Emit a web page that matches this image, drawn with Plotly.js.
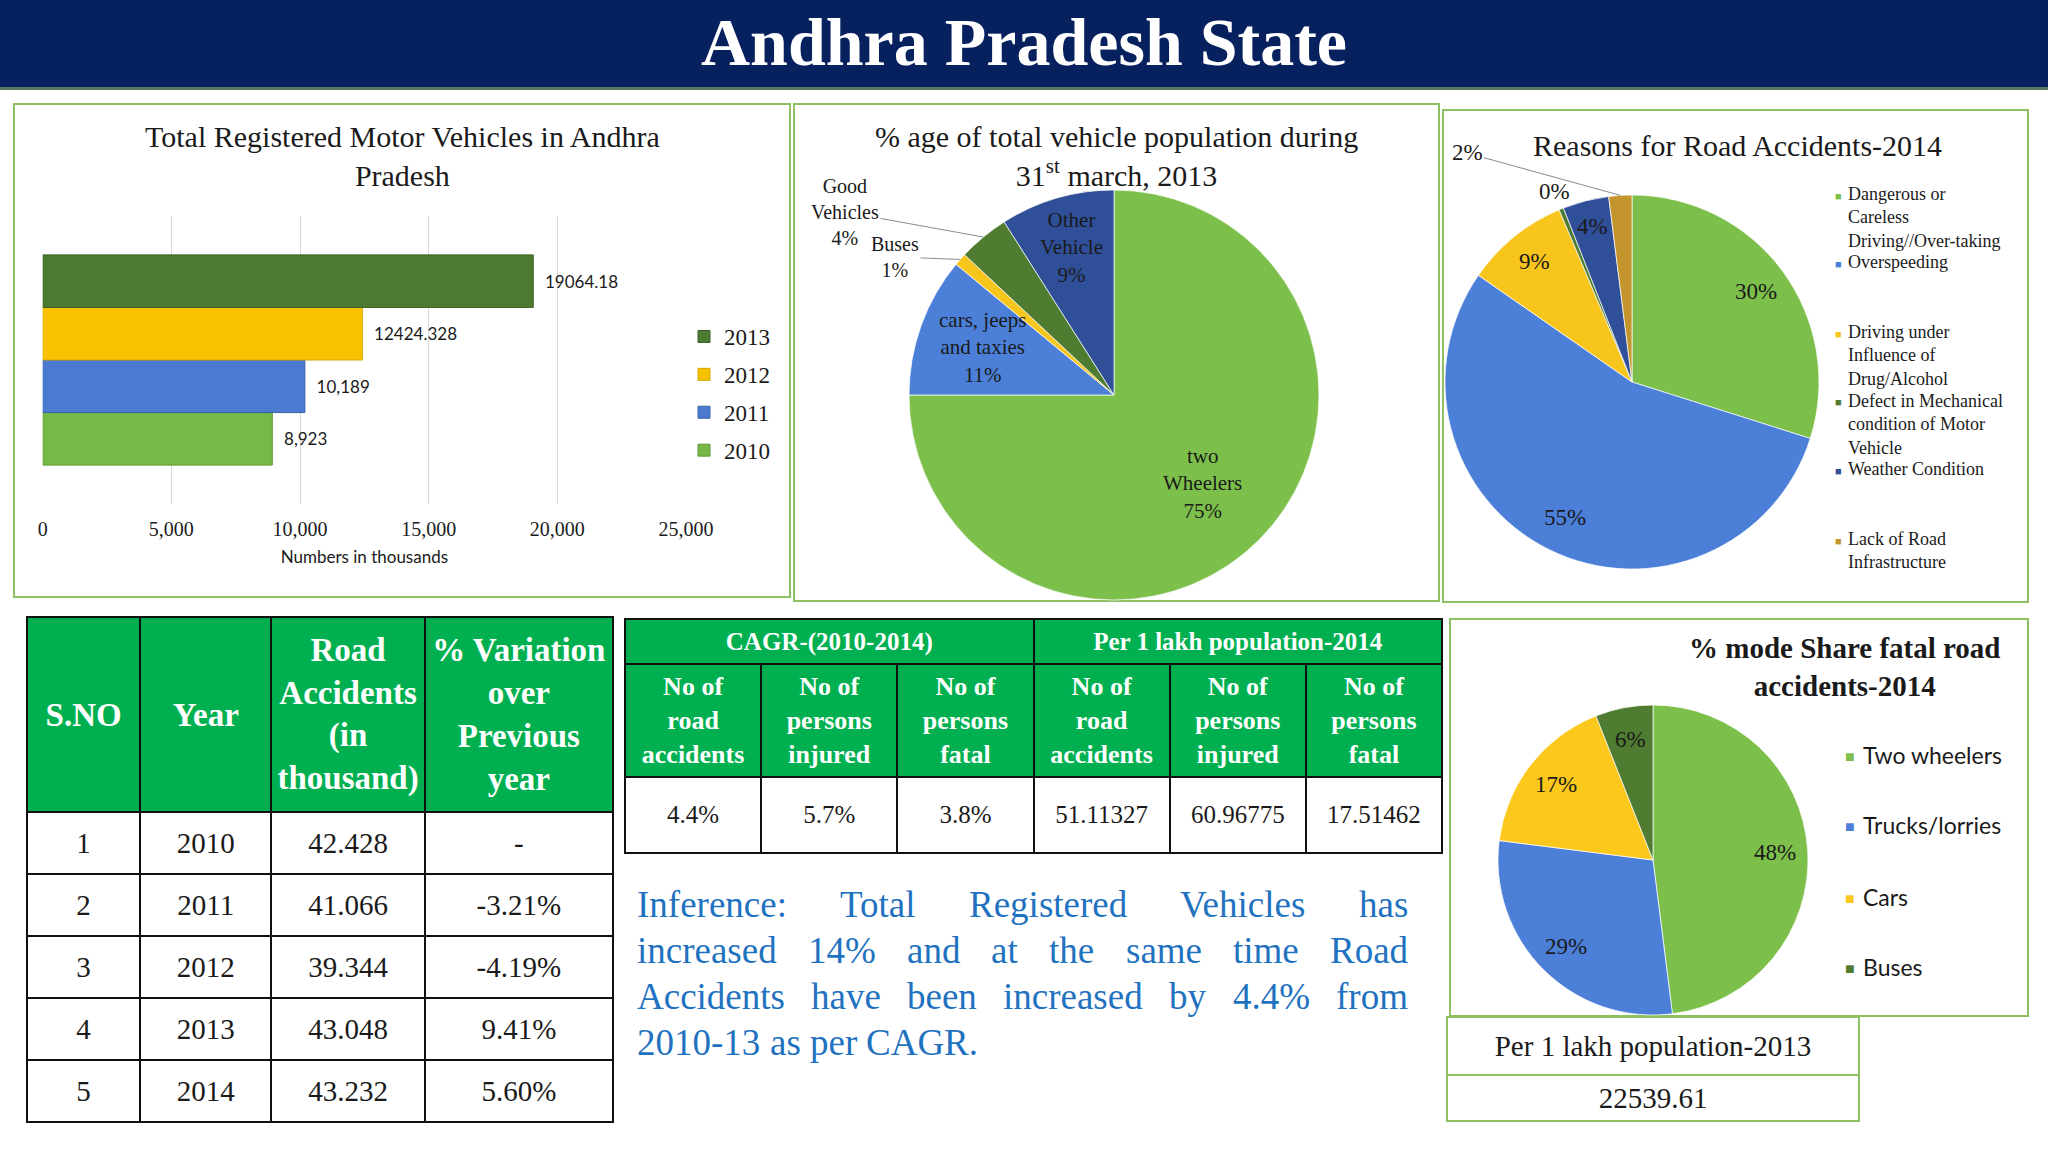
<!DOCTYPE html>
<html><head><meta charset="utf-8">
<script src="https://cdn.plot.ly/plotly-3.0.1.min.js"></script>
<style>html,body{margin:0;padding:0;background:#fff;}#chart{width:2048px;height:1152px;}</style>
</head><body><div id="chart"></div>
<script>
// ---------------- DATA ----------------
const pageTitle = 'Andhra Pradesh State';

// Panel 1: Total registered motor vehicles (thousands)
const barYears = ['2010', '2011', '2012', '2013'];
const barValues = [8923, 10189, 12424.328, 19064.18];
const barLabels = ['8,923', '10,189', '12424.328', '19064.18'];
const barTickVals = [0, 5000, 10000, 15000, 20000, 25000];
const barTickText = ['0', '5,000', '10,000', '15,000', '20,000', '25,000'];
const barTitle = 'Total Registered Motor Vehicles in Andhra<br>Pradesh';
const barAxisTitle = 'Numbers in thousands';

// Panel 2: % of vehicle population, 31st March 2013
const vehLabels = ['two<br>Wheelers', 'cars, jeeps<br>and taxies', 'Buses', 'Good<br>Vehicles', 'Other<br>Vehicle'];
const vehValues = [75, 11, 1, 4, 9];
const vehTitle = '% age of total vehicle population during<br>31<sup>st</sup> march, 2013';

// Panel 3: Reasons for road accidents 2014
const reasonLabels = ['Dangerous or<br>Careless<br>Driving//Over-taking', 'Overspeeding',
  'Driving under<br>Influence of<br>Drug/Alcohol', 'Defect in Mechanical<br>condition of Motor<br>Vehicle',
  'Weather Condition', 'Lack of Road<br>Infrastructure'];
const reasonValues = [30, 55, 9, 0.4, 4, 2];
const reasonTitle = 'Reasons for Road Accidents-2014';

// Panel 4: % mode share of fatal road accidents 2014
const modeLabels = ['Two wheelers', 'Trucks/lorries', 'Cars', 'Buses'];
const modeValues = [48, 29, 17, 6];
const modeTitle = '<b>% mode Share fatal road<br>accidents-2014</b>';

// Table 1
const t1Headers = ['S.NO', 'Year', 'Road<br>Accidents<br>(in<br>thousand)', '% Variation<br>over<br>Previous<br>year'];
const t1Sno = ['1', '2', '3', '4', '5'];
const t1Year = ['2010', '2011', '2012', '2013', '2014'];
const t1Accidents = ['42.428', '41.066', '39.344', '43.048', '43.232'];
const t1Variation = ['-', '-3.21%', '-4.19%', '9.41%', '5.60%'];

// Table 2
const t2Groups = ['CAGR-(2010-2014)', 'Per 1 lakh population-2014'];
const t2Headers = ['No of<br>road<br>accidents', 'No of<br>persons<br>injured', 'No of<br>persons<br>fatal',
  'No of<br>road<br>accidents', 'No of<br>persons<br>injured', 'No of<br>persons<br>fatal'];
const t2Values = ['4.4%', '5.7%', '3.8%', '51.11327', '60.96775', '17.51462'];

// Per lakh 2013 box
const lakhHeader = ['Per 1 lakh population-2013'];
const lakhValue = ['22539.61'];

// Inference paragraph (lines as laid out)
const inferenceLines = ['Inference: Total Registered Vehicles has',
  'increased 14% and at the same time Road',
  'Accidents have been increased by 4.4% from',
  '2010-13 as per CAGR.'];

// ---------------- STYLE ----------------
const W = 2048, H = 1152;
const X = p => p / W, Y = p => 1 - p / H;
const SERIF = '"Liberation Serif", "Times New Roman", serif';
const SANS = 'Lato, "Open Sans", sans-serif';
const INK = '#1a1a1a';
const barColors = ['#76b947', '#4a7bd0', '#f7c300', '#4d7a31'];
const barLines = ['#5e9a35', '#3962ad', '#d2a500', '#3b6024'];
const vehColors = ['#7cc04b', '#4c80d8', '#f6c61c', '#4f7c31', '#2f4f98'];
const reasonColors = ['#7cc04b', '#4c7fd8', '#f8c51c', '#4f7c31', '#2f4f98', '#c4952c'];
const modeColors = ['#7cc04b', '#4c7fd8', '#fcc81c', '#4f7c31'];
const GREEN = '#00b050';
const PANEL = '#8cc063';

const traces = [];

// Bars (legend lists the latest year first)
barYears.forEach((yr, i) => {
  traces.push({
    type: 'bar', orientation: 'h', name: yr, legendgroup: 'y' + yr, legendrank: 100 - i,
    x: [barValues[i]], y: ['Vehicles'], text: [barLabels[i]],
    texttemplate: '\u00a0\u00a0%{text}',
    textposition: 'outside', cliponaxis: false,
    textfont: {family: SANS, size: 17, color: INK},
    marker: {color: barColors[i], line: {color: barLines[i], width: 1}},
    xaxis: 'x', yaxis: 'y', hoverinfo: 'name+x'
  });
});

// Pies (geometry: centre and radius in page pixels)
const pie2 = {cx: 1114, cy: 395, r: 205};
const pie3 = {cx: 1632, cy: 382, r: 187};
const pie4 = {cx: 1653, cy: 860, r: 155};
const pieDomain = p => ({x: [X(p.cx - p.r), X(p.cx + p.r)], y: [Y(p.cy + p.r), Y(p.cy - p.r)]});
const pieTrace = (p, labels, values, colors) => ({
  type: 'pie', labels: labels, values: values, sort: false, direction: 'clockwise', rotation: 0,
  marker: {colors: colors, line: {color: 'rgba(255,255,255,0.7)', width: 1}},
  textinfo: 'none', domain: pieDomain(p), showlegend: false, hoverinfo: 'label+percent'
});
traces.push(pieTrace(pie2, vehLabels, vehValues, vehColors));
traces.push(pieTrace(pie3, reasonLabels, reasonValues, reasonColors));
traces.push(pieTrace(pie4, modeLabels, modeValues, modeColors));

// Table 1
traces.push({
  type: 'table', domain: {x: [X(27), X(613)], y: [Y(1125), Y(617)]},
  columnwidth: [113, 131, 153, 188],
  header: {values: t1Headers, align: 'center', height: 195,
    fill: {color: GREEN}, line: {color: '#111', width: 2},
    font: {family: SERIF, size: 33, color: '#ffffff', weight: 'bold'}},
  cells: {values: [t1Sno, t1Year, t1Accidents, t1Variation], align: 'center', height: 62,
    fill: {color: '#ffffff'}, line: {color: '#111', width: 2},
    font: {family: SERIF, size: 29, color: INK}}
});

// Table 2 group header
traces.push({
  type: 'table', domain: {x: [X(625), X(1442)], y: [Y(666), Y(619)]},
  columnwidth: [1, 1],
  header: {values: t2Groups, align: 'center', height: 45,
    fill: {color: GREEN}, line: {color: '#111', width: 2},
    font: {family: SERIF, size: 25, color: '#ffffff', weight: 'bold'}}
});
// Table 2 body
traces.push({
  type: 'table', domain: {x: [X(625), X(1442)], y: [Y(857), Y(664)]},
  columnwidth: [1, 1, 1, 1, 1, 1],
  header: {values: t2Headers, align: 'center', height: 109,
    fill: {color: GREEN}, line: {color: '#111', width: 2},
    font: {family: SERIF, size: 26, color: '#ffffff', weight: 'bold'}},
  cells: {values: t2Values.map(v => [v]), align: 'center', height: 76,
    fill: {color: '#ffffff'}, line: {color: '#111', width: 2},
    font: {family: SERIF, size: 25, color: INK}}
});
// Per lakh 2013 box
traces.push({
  type: 'table', domain: {x: [X(1447), X(1859)], y: [Y(1126), Y(1017)]},
  header: {values: lakhHeader, align: 'center', height: 58,
    fill: {color: '#ffffff'}, line: {color: PANEL, width: 2},
    font: {family: SERIF, size: 29, color: INK}},
  cells: {values: [lakhValue], align: 'center', height: 46,
    fill: {color: '#ffffff'}, line: {color: PANEL, width: 2},
    font: {family: SERIF, size: 29, color: INK}}
});

// ---------------- ANNOTATIONS ----------------
const ann = [];
const txt = (x, y, text, size, opts = {}) => Object.assign({
  x: X(x), y: Y(y), xref: 'paper', yref: 'paper', text: text, showarrow: false,
  xanchor: 'center', yanchor: 'middle',
  font: {family: SERIF, size: size, color: INK}
}, opts);

ann.push(txt(1024, 42, '<b>' + pageTitle + '</b>', 68, {font: {family: SERIF, size: 68, color: '#ffffff'}}));
ann.push(txt(402, 156, barTitle, 30));
ann.push(txt(1116, 156, vehTitle, 30));
ann.push(txt(1737, 145, reasonTitle, 30));
ann.push(txt(1844, 667, modeTitle, 29));

// Point at a fraction of the radius along a slice's mid-angle, computed from the values
function polar(p, values, idx, frac) {
  const total = values.reduce((a, b) => a + b, 0);
  let before = 0;
  for (let k = 0; k < idx; k++) before += values[k];
  const th = 2 * Math.PI * (before + values[idx] / 2) / total;
  return [p.cx + frac * p.r * Math.sin(th), p.cy - frac * p.r * Math.cos(th)];
}
const pct = (values, i) => Math.round(values[i] / values.reduce((a, b) => a + b, 0) * 100) + '%';
function sliceLabel(p, values, idx, frac, text, size) {
  const [x, y] = polar(p, values, idx, frac);
  return txt(x, y, text, size);
}
function leader(p, values, idx, tx, ty, text, size) {
  const [px, py] = polar(p, values, idx, 1);
  return {x: X(px), y: Y(py), xref: 'paper', yref: 'paper', text: text, showarrow: true,
    arrowhead: 0, arrowwidth: 1, arrowcolor: '#8c8c8c', ax: tx - px, ay: ty - py,
    font: {family: SERIF, size: size, color: INK}, align: 'center'};
}
// Pie 2 labels
const vehFrac = [0.61, 0.68, null, null, 0.75];
[0, 1, 4].forEach(i => ann.push(sliceLabel(pie2, vehValues, i, vehFrac[i], vehLabels[i] + '<br>' + pct(vehValues, i), 21)));
ann.push(leader(pie2, vehValues, 3, 845, 212, vehLabels[3] + '<br>' + pct(vehValues, 3), 20));
ann.push(leader(pie2, vehValues, 2, 895, 257, vehLabels[2] + '<br>' + pct(vehValues, 2), 20));
// Pie 3 labels
const reasonFrac = [0.82, 0.81, 0.83, 1.1, 0.86, null];
[0, 1, 2, 3, 4].forEach(i => ann.push(sliceLabel(pie3, reasonValues, i, reasonFrac[i], pct(reasonValues, i), 23)));
ann.push(leader(pie3, reasonValues, 5, 1467, 153, pct(reasonValues, 5), 23));
// Pie 4 labels
modeValues.forEach((v, i) => ann.push(sliceLabel(pie4, modeValues, i, 0.79, pct(modeValues, i), 23)));

// Legend for panel 3 (manual, to reproduce spacing)
const reasonLegendY = [195, 263, 333, 402, 470, 540];
reasonLabels.forEach((lab, i) => {
  ann.push(txt(1838, reasonLegendY[i], '■', 11, {font: {family: SANS, size: 11, color: reasonColors[i]}}));
  ann.push(txt(1846, reasonLegendY[i] - 13, lab, 18, {xanchor: 'left', yanchor: 'top', align: 'left'}));
});
// Legend for panel 4
const modeLegendY = [755, 825, 897, 967];
modeLabels.forEach((lab, i) => {
  ann.push(txt(1850, modeLegendY[i], '■', 16, {font: {family: SANS, size: 16, color: modeColors[i]}}));
  ann.push(txt(1861, modeLegendY[i], lab, 23, {xanchor: 'left', font: {family: SANS, size: 23, color: INK}}));
});

// Inference paragraph, justified word by word
(function () {
  const size = 37, left = 636, right = 1407, lineY = [904, 950, 996, 1042];
  const ctx = document.createElement('canvas').getContext('2d');
  ctx.font = size + 'px "Liberation Serif"';
  inferenceLines.forEach((line, li) => {
    const words = line.split(' ');
    const widths = words.map(w => ctx.measureText(w).width);
    const sum = widths.reduce((a, b) => a + b, 0);
    const last = li === inferenceLines.length - 1;
    const gap = last ? ctx.measureText(' ').width : (right - left - sum) / (words.length - 1);
    let x = left;
    words.forEach((w, wi) => {
      ann.push(txt(x, lineY[li], w, size, {xanchor: 'left', borderpad: 0,
        font: {family: SERIF, size: size, color: '#1f72c0'}}));
      x += widths[wi] + gap;
    });
  });
})();

// ---------------- SHAPES ----------------
const rect = (x0, y0, x1, y1, o = {}) => Object.assign({type: 'rect', xref: 'paper', yref: 'paper',
  x0: X(x0), x1: X(x1), y0: Y(y1), y1: Y(y0), line: {color: PANEL, width: 2}, layer: 'below'}, o);
const shapes = [
  rect(0, 0, 2048, 89, {fillcolor: '#06215e', line: {width: 0}}),
  rect(0, 87, 2048, 90, {fillcolor: '#5b7a66', line: {width: 0}}),
  rect(14, 104, 790, 597),
  rect(794, 104, 1439, 601),
  rect(1443, 110, 2028, 602),
  rect(1450, 619, 2028, 1016)
];

const layout = {
  width: W, height: H, margin: {l: 0, r: 0, t: 0, b: 0},
  paper_bgcolor: '#ffffff', plot_bgcolor: 'rgba(0,0,0,0)',
  font: {family: SERIF, color: INK},
  barmode: 'group', bargap: 0.27, bargroupgap: 0,
  xaxis: {domain: [X(42.7), X(686)], range: [0, 25000], tickvals: barTickVals, ticktext: barTickText,
    showgrid: true, gridcolor: '#d9d9d9', gridwidth: 1, zeroline: false, showline: false,
    ticks: 'outside', ticklen: 7, tickcolor: 'rgba(0,0,0,0)',
    tickfont: {family: SERIF, size: 20, color: INK},
    title: {text: barAxisTitle, font: {family: SANS, size: 17, color: INK}, standoff: 12},
    anchor: 'y', fixedrange: true},
  yaxis: {domain: [Y(504), Y(216)], showticklabels: false, showgrid: false, zeroline: false,
    anchor: 'x', fixedrange: true},
  showlegend: true,
  legend: {x: X(684), xanchor: 'left', y: Y(315), yanchor: 'top', traceorder: 'grouped',
    tracegroupgap: 5, font: {family: SERIF, size: 23, color: INK}, bgcolor: 'rgba(0,0,0,0)'},
  annotations: ann, shapes: shapes
};

// Centre multi-line cell text line by line and vertically within each table cell
function fixTables(gd) {
  gd.querySelectorAll('g.column-cell').forEach(cell => {
    const rect = cell.querySelector('rect');
    const text = cell.querySelector('text');
    if (!rect || !text || !text.textContent.trim()) return;
    const lines = text.querySelectorAll('tspan.line');
    if (lines.length > 1) {
      const bb = text.getBBox();
      const cx = bb.x + bb.width / 2;
      lines.forEach(l => { l.setAttribute('x', cx); l.setAttribute('text-anchor', 'middle'); });
    }
    const rr = rect.getBoundingClientRect(), tr = text.getBoundingClientRect();
    const dy = (rr.top + rr.height / 2) - (tr.top + tr.height / 2);
    if (Math.abs(dy) > 0.5) {
      const prev = text.getAttribute('transform') || '';
      text.setAttribute('transform', prev + ' translate(0,' + dy.toFixed(2) + ')');
    }
  });
}

const gd = document.getElementById('chart');
Plotly.newPlot(gd, traces, layout, {displayModeBar: false, staticPlot: true}).then(() => {
  fixTables(gd);
  setTimeout(() => fixTables(gd), 300);
});
</script></body></html>
